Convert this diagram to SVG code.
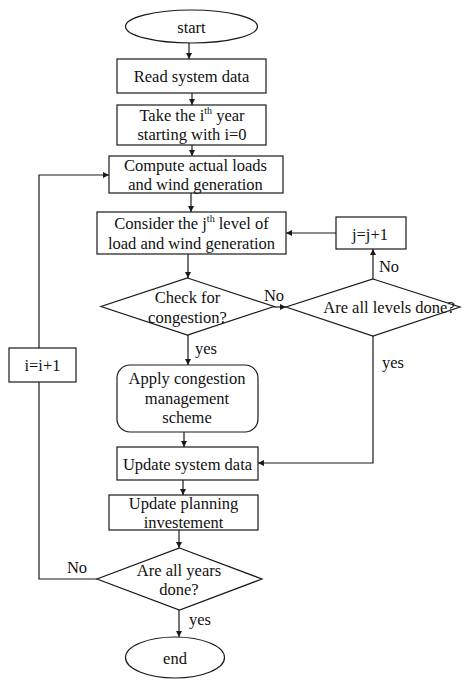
<svg xmlns="http://www.w3.org/2000/svg" width="474" height="690" viewBox="0 0 474 690">
<defs>
<marker id="ah" markerUnits="userSpaceOnUse" markerWidth="8" markerHeight="8" refX="6" refY="3" orient="auto">
<path d="M0,0 L6,3 L0,6 Z" fill="#1a1a1a"/>
</marker>
<style>
.s{fill:#fff;stroke:#1a1a1a;stroke-width:1.2}
.c{fill:none;stroke:#1a1a1a;stroke-width:1.2}
.a{marker-end:url(#ah)}
text{font-family:"Liberation Serif","Times New Roman",serif;font-size:16.5px;fill:#111;text-anchor:middle}
.sup{font-size:10px}
</style>
</defs>
<rect width="474" height="690" fill="#fff"/>
<g id="connectors">
<path class="c a" d="M189,43 V59"/>
<path class="c a" d="M192,93 V105"/>
<path class="c a" d="M192,145 V156"/>
<path class="c a" d="M191,193 V212"/>
<path class="c a" d="M188,254 V278"/>
<path class="c a" d="M188,335 V365"/>
<path class="c a" d="M184,432 V447"/>
<path class="c a" d="M183,480 V495"/>
<path class="c a" d="M179,530 V548"/>
<path class="c a" d="M179,610 V637"/>
<path class="c a" d="M274,307 H286"/>
<path class="c a" d="M373,279 V249"/>
<path class="c a" d="M336,233 H286"/>
<path class="c a" d="M373,336 V463 H258"/>
<path class="c a" d="M97,579 H39 V175 H109"/>
<text x="274" y="301">No</text>
<text x="389" y="272">No</text>
<text x="206" y="354">yes</text>
<text x="393" y="368">yes</text>
<text x="77" y="573">No</text>
<text x="200" y="625">yes</text>
</g>
<g id="start">
<ellipse class="s" cx="191.5" cy="26.5" rx="66" ry="16.5"/>
<text x="191.5" y="32.5">start</text>
</g>
<g id="read">
<rect class="s" x="117" y="59" width="149" height="34"/>
<text x="191.5" y="82">Read system data</text>
</g>
<g id="take">
<rect class="s" x="117" y="105" width="149" height="40"/>
<text x="192" y="120.5">Take the i<tspan class="sup" dy="-7">th</tspan><tspan dy="7"> year</tspan></text>
<text x="192" y="140">starting with i=0</text>
</g>
<g id="compute">
<rect class="s" x="109" y="156" width="174" height="37"/>
<text x="195.5" y="171">Compute actual loads</text>
<text x="195.5" y="189.5">and wind generation</text>
</g>
<g id="consider">
<rect class="s" x="97" y="212" width="189" height="42"/>
<text x="191.5" y="228.5">Consider the j<tspan class="sup" dy="-7">th</tspan><tspan dy="7"> level of</tspan></text>
<text x="191.5" y="248.5">load and wind generation</text>
</g>
<g id="jinc">
<rect class="s" x="336" y="217" width="70" height="32"/>
<text x="370" y="240">j=j+1</text>
</g>
<g id="check">
<polygon class="s" points="187.5,278 274,306.5 187.5,335 101,306.5"/>
<text x="187.5" y="302.5">Check for</text>
<text x="187.5" y="322.5">congestion?</text>
</g>
<g id="levels">
<polygon class="s" points="373,279 460,307 373,336 286,307"/>
<text x="389" y="312.5">Are all levels done?</text>
</g>
<g id="iinc">
<rect class="s" x="9" y="348" width="67" height="34"/>
<text x="42.5" y="370.5">i=i+1</text>
</g>
<g id="apply">
<rect class="s" x="117" y="365" width="141" height="67" rx="13"/>
<text x="187" y="383.5">Apply congestion</text>
<text x="187" y="403.5">management</text>
<text x="187" y="422.5">scheme</text>
</g>
<g id="update">
<rect class="s" x="117" y="447" width="141" height="33"/>
<text x="187.5" y="470">Update system data</text>
</g>
<g id="planning">
<rect class="s" x="109" y="495" width="149" height="35"/>
<text x="183.5" y="508.5">Update planning</text>
<text x="183.5" y="527.5">investement</text>
</g>
<g id="years">
<polygon class="s" points="179.5,548 262,579 179.5,610 97,579"/>
<text x="179" y="576">Are all years</text>
<text x="179" y="595">done?</text>
</g>
<g id="end">
<ellipse class="s" cx="175" cy="657.5" rx="49.5" ry="20.5"/>
<text x="175" y="663.5">end</text>
</g>
</svg>
